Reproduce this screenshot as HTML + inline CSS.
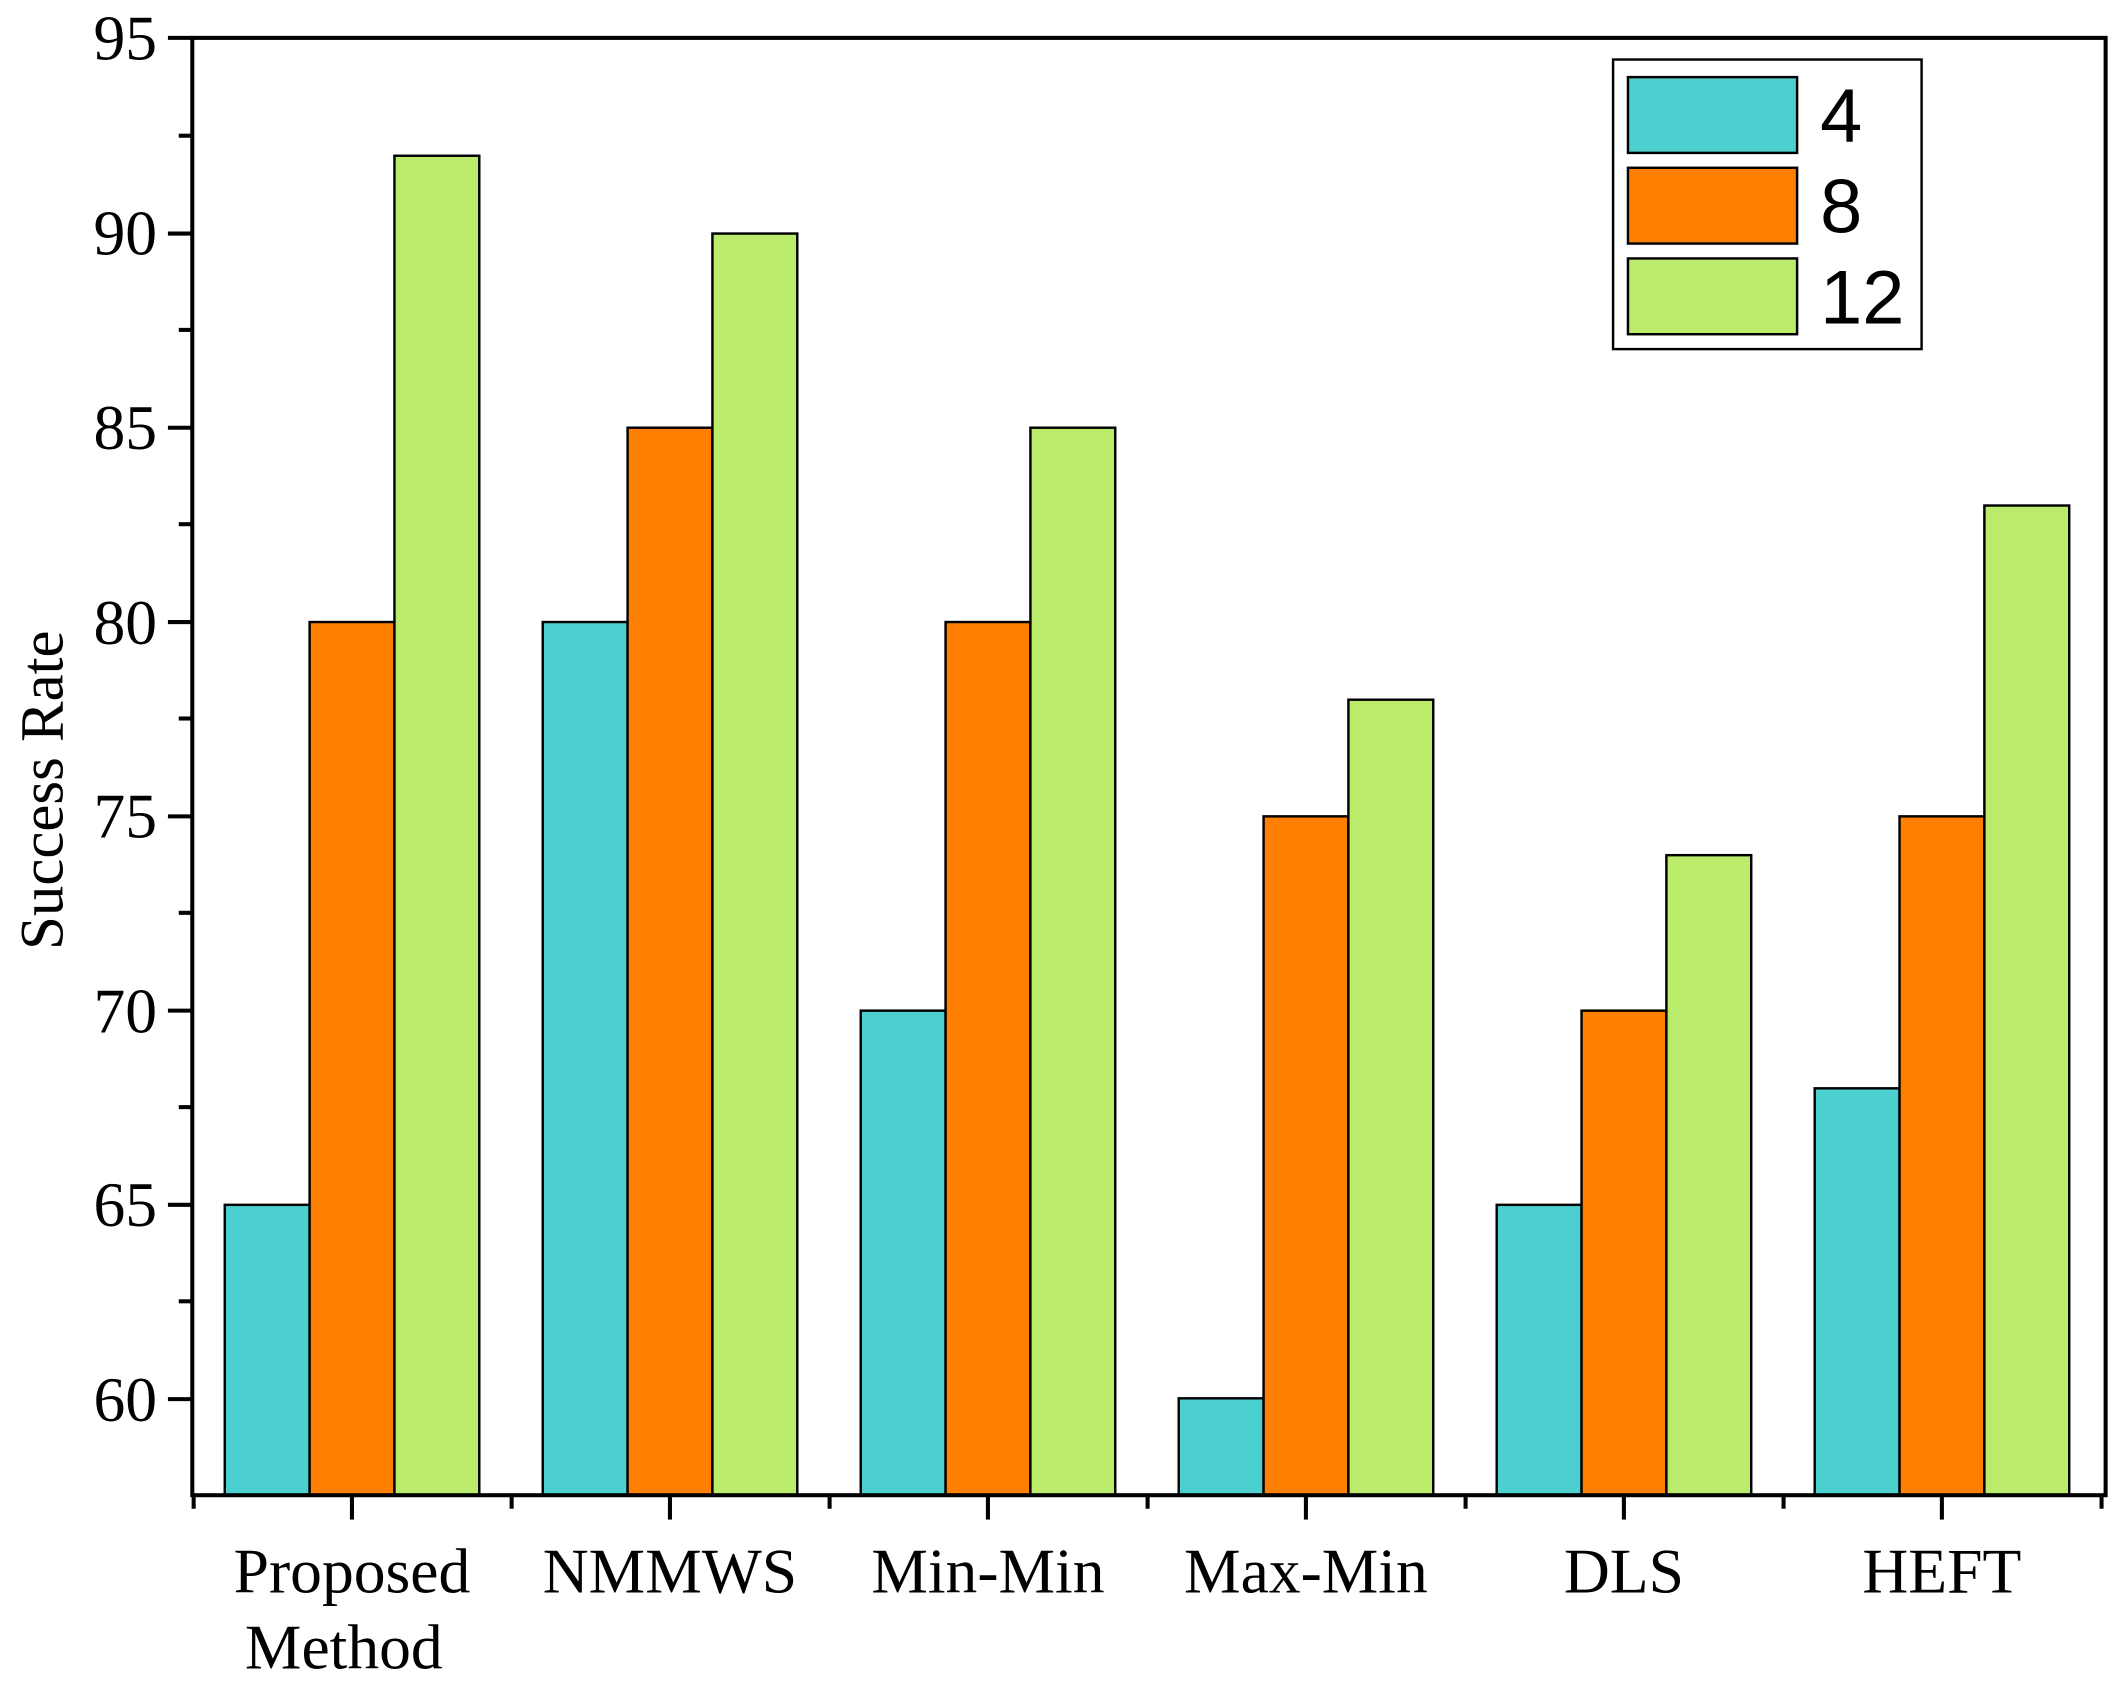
<!DOCTYPE html>
<html><head><meta charset="utf-8"><style>html,body{margin:0;padding:0;background:#fff}svg{display:block}</style></head>
<body>
<svg width="2122" height="1686" viewBox="0 0 1568 1246" xmlns="http://www.w3.org/2000/svg">
<rect width="1568" height="1246" fill="#fff"/>
<g stroke="#000" stroke-width="1.8">
<rect x="166" y="890.4" width="62.7" height="214.6" fill="#4ccfcf"/>
<rect x="228.7" y="459.7" width="62.7" height="645.3" fill="#ff8000"/>
<rect x="291.4" y="115.1" width="62.7" height="989.9" fill="#bbeb6b"/>
<rect x="401" y="459.7" width="62.7" height="645.3" fill="#4ccfcf"/>
<rect x="463.7" y="316.1" width="62.7" height="788.9" fill="#ff8000"/>
<rect x="526.4" y="172.6" width="62.7" height="932.4" fill="#bbeb6b"/>
<rect x="636" y="746.9" width="62.7" height="358.1" fill="#4ccfcf"/>
<rect x="698.7" y="459.7" width="62.7" height="645.3" fill="#ff8000"/>
<rect x="761.4" y="316.1" width="62.7" height="788.9" fill="#bbeb6b"/>
<rect x="871" y="1033.4" width="62.7" height="71.6" fill="#4ccfcf"/>
<rect x="933.7" y="603.3" width="62.7" height="501.7" fill="#ff8000"/>
<rect x="996.4" y="517.1" width="62.7" height="587.9" fill="#bbeb6b"/>
<rect x="1106" y="890.4" width="62.7" height="214.6" fill="#4ccfcf"/>
<rect x="1168.7" y="746.9" width="62.7" height="358.1" fill="#ff8000"/>
<rect x="1231.4" y="632.0" width="62.7" height="473.0" fill="#bbeb6b"/>
<rect x="1341" y="804.3" width="62.7" height="300.7" fill="#4ccfcf"/>
<rect x="1403.7" y="603.3" width="62.7" height="501.7" fill="#ff8000"/>
<rect x="1466.4" y="373.6" width="62.7" height="731.4" fill="#bbeb6b"/>
</g>
<rect x="142" y="28" width="1414" height="1077" fill="none" stroke="#000" stroke-width="3"/>
<g stroke="#000" stroke-width="3">
<line x1="142" y1="28" x2="124" y2="28"/><line x1="142" y1="172.6" x2="124" y2="172.6"/>
<line x1="142" y1="316.1" x2="124" y2="316.1"/><line x1="142" y1="459.7" x2="124" y2="459.7"/>
<line x1="142" y1="603.3" x2="124" y2="603.3"/><line x1="142" y1="746.9" x2="124" y2="746.9"/>
<line x1="142" y1="890.4" x2="124" y2="890.4"/><line x1="142" y1="1034" x2="124" y2="1034"/>
<line x1="142" y1="100.3" x2="132" y2="100.3"/><line x1="142" y1="243.8" x2="132" y2="243.8"/>
<line x1="142" y1="387.4" x2="132" y2="387.4"/><line x1="142" y1="531" x2="132" y2="531"/>
<line x1="142" y1="674.6" x2="132" y2="674.6"/><line x1="142" y1="818.2" x2="132" y2="818.2"/>
<line x1="142" y1="961.7" x2="132" y2="961.7"/>
<line x1="143" y1="1105" x2="143" y2="1115"/><line x1="378" y1="1105" x2="378" y2="1115"/>
<line x1="613" y1="1105" x2="613" y2="1115"/><line x1="848" y1="1105" x2="848" y2="1115"/>
<line x1="1083" y1="1105" x2="1083" y2="1115"/><line x1="1318" y1="1105" x2="1318" y2="1115"/>
<line x1="1553" y1="1105" x2="1553" y2="1115"/>
<line x1="260" y1="1105" x2="260" y2="1123"/><line x1="495" y1="1105" x2="495" y2="1123"/>
<line x1="730" y1="1105" x2="730" y2="1123"/><line x1="965" y1="1105" x2="965" y2="1123"/>
<line x1="1200" y1="1105" x2="1200" y2="1123"/><line x1="1435" y1="1105" x2="1435" y2="1123"/>
</g>
<g font-family="Liberation Serif, serif" font-size="47" text-anchor="end" fill="#000">
<text x="116" y="44">95</text><text x="116" y="188">90</text><text x="116" y="332">85</text>
<text x="116" y="476">80</text><text x="116" y="619">75</text><text x="116" y="763">70</text>
<text x="116" y="906">65</text><text x="116" y="1050">60</text>
</g>
<g font-family="Liberation Serif, serif" font-size="47" text-anchor="middle" fill="#000">
<text x="260" y="1177">Proposed</text><text x="254" y="1233">Method</text>
<text x="495" y="1177">NMMWS</text><text x="730" y="1177">Min-Min</text>
<text x="965" y="1177">Max-Min</text><text x="1200" y="1177">DLS</text><text x="1435" y="1177">HEFT</text>
<text transform="translate(46,584) rotate(-90)" font-size="45">Success Rate</text>
</g>
<rect x="1192" y="44" width="228" height="214" fill="#fff" stroke="#000" stroke-width="1.8"/>
<g stroke="#000" stroke-width="1.8">
<rect x="1203" y="57" width="125" height="56" fill="#4ccfcf"/>
<rect x="1203" y="124" width="125" height="56" fill="#ff8000"/>
<rect x="1203" y="191" width="125" height="56" fill="#bbeb6b"/>
</g>
<g font-family="Liberation Sans, sans-serif" font-size="56" fill="#000">
<text x="1345" y="105">4</text><text x="1345" y="172">8</text><text x="1345" y="239">12</text>
</g>
</svg>
</body></html>
